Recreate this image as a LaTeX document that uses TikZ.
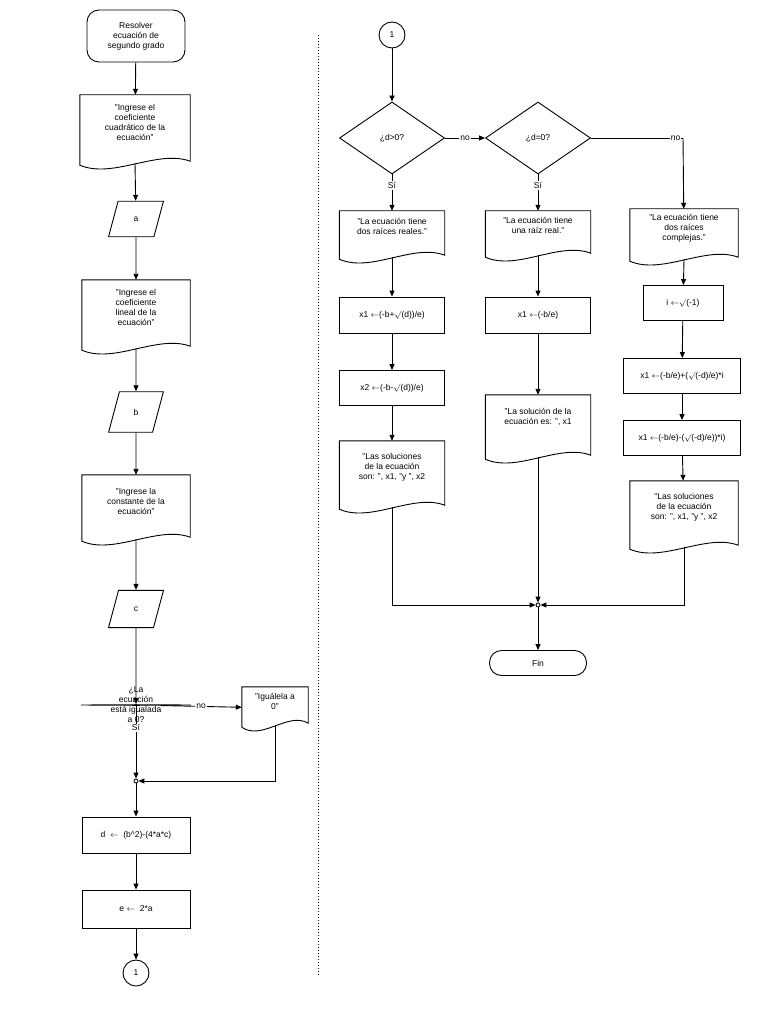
\documentclass[tikz,border=0pt]{standalone}
\usepackage{fontspec}
\setmainfont{Liberation Sans}
\usetikzlibrary{arrows.meta,shapes.geometric,calc}
\begin{document}
\begin{tikzpicture}[x=1pt,y=-1pt,font=\fontsize{8.5}{10}\selectfont,
  every node/.style={align=center,inner sep=1pt},
  line/.style={draw,line width=0.9pt},
  arr/.style={line,-{Triangle[length=6pt,width=5pt]}},
  term/.style={draw,line width=0.9pt,rounded corners=12pt},
  proc/.style={draw,line width=0.9pt},
  io/.style={draw,line width=0.9pt,trapezium,trapezium left angle=75,trapezium right angle=105,minimum width=55pt,minimum height=25pt},
  dia/.style={draw,line width=0.9pt,diamond,aspect=1,inner sep=0pt},
  con/.style={draw,line width=0.9pt,circle,minimum size=26pt,inner sep=0pt},
  jn/.style={draw,line width=0.8pt,circle,fill=white,minimum size=4pt,inner sep=0pt},
  lab/.style={fill=white,inner sep=1pt}]
\newcommand\docout[1]{\draw[line width=0.9pt] (#1.north west) -- (#1.north east) -- ($(#1.south east)+(0,-6)$) .. controls ($(#1.south east)!0.3!(#1.south west)+(0,-18)$) and ($(#1.south east)!0.7!(#1.south west)+(0,12)$) .. ($(#1.south west)+(0,-2)$) -- cycle;}
\useasboundingbox (0,0) rectangle (768,1024);
% left column
\node[term,minimum width=98pt,minimum height=52pt] (s) at (136,36) {Resolver\\ecuación de\\segundo grado};
\node[minimum width=110pt,minimum height=72pt] (d1) at (135,131) {"Ingrese el\\coeficiente\\cuadrático de la\\ecuación"\\[8pt]}; \docout{d1}
\node[io] (a) at (136,219) {a};
\node[minimum width=108pt,minimum height=72pt] (d2) at (136,316) {"Ingrese el\\coeficiente\\lineal de la\\ecuación"\\[8pt]}; \docout{d2}
\node[io] (b) at (136,412) {b};
\node[minimum width=108pt,minimum height=68pt] (d3) at (136,509) {"Ingrese la\\constante de la\\ecuación"\\[6pt]}; \docout{d3}
\node[io] (c) at (136,609) {c};
\node[dia,minimum width=110pt] (q) at (136,705) {};
\node at (136,705) {¿La\\ecuación\\está igualada\\a 0?};
\node[minimum width=66pt,minimum height=42pt] (ig) at (275,708) {"Iguálela a\\0"\\[4pt]}; \docout{ig}
\node[jn] (j1) at (136,781) {};
\node[proc,minimum width=108pt,minimum height=36pt] (dd) at (136,835) {d \ $\leftarrow$ \ (b\^{}2)-(4*a*c)};
\node[proc,minimum width=108pt,minimum height=38pt] (ee) at (136,909) {e $\leftarrow$ \ 2*a};
\node[con] (c1) at (136,973) {1};
\draw[arr] (s) -- (d1);
\draw[arr] ($(d1.south)+(0,-4)$) -- (a);
\draw[arr] (a) -- (d2);
\draw[arr] ($(d2.south)+(0,-4)$) -- (b);
\draw[arr] (b) -- (d3);
\draw[arr] ($(d3.south)+(0,-4)$) -- (c);
\draw[arr] (c) -- (q);
\draw[arr] (q) -- node[lab]{no} (ig);
\draw[arr] (q) -- node[lab,pos=0.3]{Sí} (j1);
\draw[arr] ($(ig.south)+(0,-4)$) |- (j1);
\draw[arr] (j1) -- (dd);
\draw[arr] (dd) -- (ee);
\draw[arr] (ee) -- (c1);
\draw[line width=1pt,dotted] (318,35) -- (318,975);
% right part
\node[con] (c2) at (392,35) {1};
\node[dia,minimum width=105pt,minimum height=72pt,aspect=1.46] (p1) at (392,138) {};
\node at (392,138) {¿d>0?};
\node[dia,minimum width=105pt,minimum height=72pt,aspect=1.46] (p2) at (538,138) {};
\node at (538,138) {¿d=0?};
\coordinate (k) at (683,138);
\node[minimum width=105pt,minimum height=50pt] (da) at (392,236) {"La ecuación tiene\\dos raíces reales."\\[10pt]}; \docout{da}
\node[minimum width=105pt,minimum height=48pt] (db) at (538,235) {"La ecuación tiene\\una raíz real."\\[10pt]}; \docout{db}
\node[minimum width=108pt,minimum height=54pt] (dc) at (684,236) {"La ecuación tiene\\dos raíces\\complejas."\\[8pt]}; \docout{dc}
\node[proc,minimum width=105pt,minimum height=36pt] (x1a) at (392,315) {x1 $\leftarrow$(-b+$\surd$(d))/e)};
\node[proc,minimum width=105pt,minimum height=36pt] (x1b) at (538,315) {x1 $\leftarrow$(-b/e)};
\node[proc,minimum width=80pt,minimum height=35pt] (ii) at (683,303) {i $\leftarrow$$\surd$(-1)};
\node[proc,minimum width=105pt,minimum height=35pt] (x2a) at (392,388) {x2 $\leftarrow$(-b-$\surd$(d))/e)};
\node[proc,minimum width=117pt,minimum height=35pt] (x1c) at (682,376) {x1 $\leftarrow$(-b/e)+($\surd$(-d)/e)*i};
\node[proc,minimum width=117pt,minimum height=35pt] (x1d) at (682,438) {x1 $\leftarrow$(-b/e)-($\surd$(-d)/e))*i)};
\node[minimum width=105pt,minimum height=70pt] (sa) at (392,476) {"Las soluciones\\de la ecuación\\son: ", x1, "y ", x2\\[10pt]}; \docout{sa}
\node[minimum width=105pt,minimum height=66pt] (sb) at (538,428) {"La solución de la\\ecuación es: ", x1\\[14pt]}; \docout{sb}
\node[minimum width=108pt,minimum height=70pt] (sc) at (684,516) {"Las soluciones\\de la ecuación\\son: ", x1, "y ", x2\\[10pt]}; \docout{sc}
\node[jn] (j2) at (538,605) {};
\node[term,minimum width=97pt,minimum height=25pt] (fin) at (538,663) {Fin};
\draw[arr] (c2) -- (p1);
\draw[arr] (p1) -- node[lab]{no} (p2);
\draw[line] (p2) -- node[lab,pos=0.92]{no} (k);
\draw[arr] (k) -- (dc);
\draw[arr] (p1) -- node[lab,pos=0.3]{Sí} (da);
\draw[arr] (p2) -- node[lab,pos=0.3]{Sí} (db);
\draw[arr] ($(da.south)+(0,-4)$) -- (x1a);
\draw[arr] ($(db.south)+(0,-4)$) -- (x1b);
\draw[arr] ($(dc.south)+(0,-4)$) -- (ii);
\draw[arr] (x1a) -- (x2a);
\draw[arr] (x2a) -- (sa);
\draw[arr] (x1b) -- (sb);
\draw[arr] (ii) -- (x1c);
\draw[arr] (x1c) -- (x1d);
\draw[arr] (x1d) -- (sc);
\draw[arr] ($(sa.south)+(0,-4)$) |- (j2);
\draw[arr] ($(sc.south)+(0,-4)$) |- (j2);
\draw[arr] ($(sb.south)+(0,-4)$) -- (j2);
\draw[arr] (j2) -- (fin);
\end{tikzpicture}
\end{document}
